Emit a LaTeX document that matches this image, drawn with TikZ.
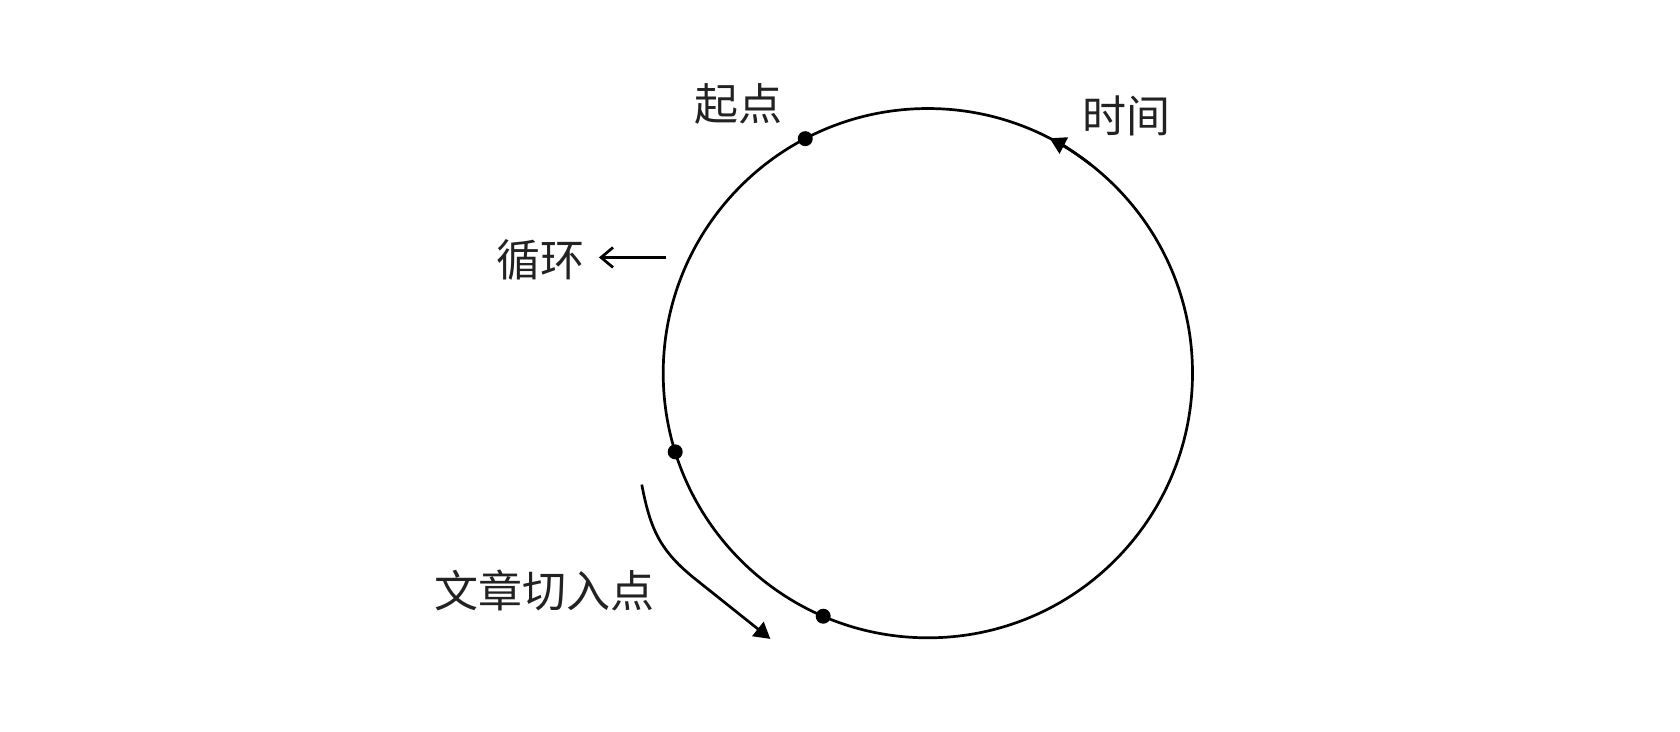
\documentclass[tikz,border=0pt]{standalone}
\usepackage{fontspec}
\newfontfamily\cjk{Noto Sans CJK SC}
\usetikzlibrary{arrows.meta}
\definecolor{textgray}{HTML}{222222}
\tikzset{
  ring/.style={line width=2.7bp,black},
  dotmark/.style={circle,fill=black,inner sep=0pt,minimum size=15bp},
  lbl/.style={font=\cjk\fontsize{44bp}{52bp}\selectfont,text=textgray,inner sep=0pt},
  bigtip/.style={-{Triangle[length=16bp,width=18bp]}},
  barbtip/.style={-{Straight Barb[length=12bp,width=20bp]}}
}
\begin{document}
\begin{tikzpicture}[x=1.07143bp,y=1.07143bp]
\useasboundingbox (0,0) rectangle (1568,682.3);
\coordinate (c) at (866,334);
\draw[ring] (c) circle[radius=247];
% direction arrow on the ring
\draw[ring,bigtip] ([shift={(52:247)}]c) arc[start angle=52,end angle=62.6,radius=247];
% dots
\node[dotmark] (start) at ([shift={(117.6:247)}]c) {};
\node[dotmark] (entry) at ([shift={(197.3:247)}]c) {};
\node[dotmark] (bottom) at ([shift={(246.7:247)}]c) {};
% labels
\node[lbl] (lstart) at (689,585) {起点};
\node[lbl] (ltime) at (1051,574) {时间};
\node[lbl] (lloop) at (504,440) {循环};
\node[lbl] (lentry) at (508,131) {文章切入点};
% loop arrow
\coordinate (loopR) at (622,442);
\coordinate (loopL) at (559,442);
\draw[ring,barbtip] (loopR) -- (loopL);
% entry curved arrow
\coordinate (cs) at (599,230);
\coordinate (cm) at (650,141);
\coordinate (ce) at (719,86);
\draw[ring,bigtip] (cs) .. controls (607,188) and (616,168) .. (cm) -- (ce);
\end{tikzpicture}
\end{document}
